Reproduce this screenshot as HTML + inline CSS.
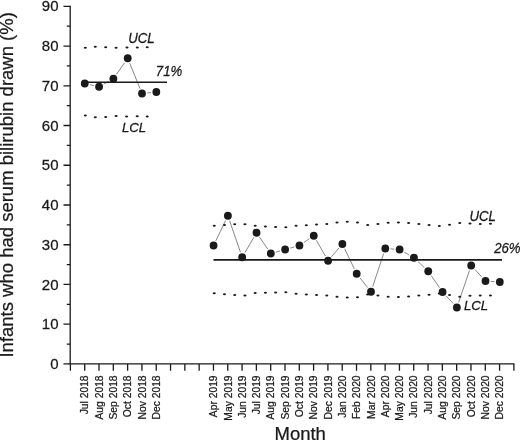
<!DOCTYPE html>
<html><head><meta charset="utf-8"><title>Control chart</title>
<style>html,body{margin:0;padding:0;background:#fff}svg{display:block}text{font-family:"Liberation Sans",Arial,sans-serif;fill:#1a1a1a;stroke:#1a1a1a;stroke-width:.25px}</style></head><body>
<svg width="520" height="440" viewBox="0 0 520 440">
<rect width="520" height="440" fill="#fff"/>
<g stroke="#1a1a1a" stroke-width="1.3" fill="none">
<path d="M70.2 5.65V363.95H514.4"/>
<path d="M63.50 363.95H70.2M66.80 344.08H70.2M63.50 324.21H70.2M66.80 304.34H70.2M63.50 284.47H70.2M66.80 264.60H70.2M63.50 244.73H70.2M66.80 224.86H70.2M63.50 204.99H70.2M66.80 185.12H70.2M63.50 165.26H70.2M66.80 145.39H70.2M63.50 125.52H70.2M66.80 105.65H70.2M63.50 85.78H70.2M66.80 65.91H70.2M63.50 46.04H70.2M66.80 26.17H70.2M63.50 6.30H70.2"/>
<path d="M70.40 363.95V370.65M84.71 363.95V370.65M99.01 363.95V370.65M113.32 363.95V370.65M127.62 363.95V370.65M141.93 363.95V370.65M156.24 363.95V370.65M170.54 363.95V370.65M184.85 363.95V370.65M199.15 363.95V370.65M213.46 363.95V370.65M227.77 363.95V370.65M242.07 363.95V370.65M256.38 363.95V370.65M270.68 363.95V370.65M284.99 363.95V370.65M299.30 363.95V370.65M313.60 363.95V370.65M327.91 363.95V370.65M342.21 363.95V370.65M356.52 363.95V370.65M370.83 363.95V370.65M385.13 363.95V370.65M399.44 363.95V370.65M413.74 363.95V370.65M428.05 363.95V370.65M442.36 363.95V370.65M456.66 363.95V370.65M470.97 363.95V370.65M485.27 363.95V370.65M499.58 363.95V370.65M513.89 363.95V370.65"/>
</g>
<text transform="translate(58.5 369.10) scale(1 1.01)" font-size="15" text-anchor="end">0</text>
<text transform="translate(58.5 329.36) scale(1 1.01)" font-size="15" text-anchor="end">10</text>
<text transform="translate(58.5 289.62) scale(1 1.01)" font-size="15" text-anchor="end">20</text>
<text transform="translate(58.5 249.88) scale(1 1.01)" font-size="15" text-anchor="end">30</text>
<text transform="translate(58.5 210.14) scale(1 1.01)" font-size="15" text-anchor="end">40</text>
<text transform="translate(58.5 170.41) scale(1 1.01)" font-size="15" text-anchor="end">50</text>
<text transform="translate(58.5 130.67) scale(1 1.01)" font-size="15" text-anchor="end">60</text>
<text transform="translate(58.5 90.93) scale(1 1.01)" font-size="15" text-anchor="end">70</text>
<text transform="translate(58.5 51.19) scale(1 1.01)" font-size="15" text-anchor="end">80</text>
<text transform="translate(58.5 11.45) scale(1 1.01)" font-size="15" text-anchor="end">90</text>
<text transform="translate(88.46 375.4) rotate(-90)" font-size="10.3" text-anchor="end">Jul 2018</text>
<text transform="translate(102.76 375.4) rotate(-90)" font-size="10.3" text-anchor="end">Aug 2018</text>
<text transform="translate(117.07 375.4) rotate(-90)" font-size="10.3" text-anchor="end">Sep 2018</text>
<text transform="translate(131.37 375.4) rotate(-90)" font-size="10.3" text-anchor="end">Oct 2018</text>
<text transform="translate(145.68 375.4) rotate(-90)" font-size="10.3" text-anchor="end">Nov 2018</text>
<text transform="translate(159.99 375.4) rotate(-90)" font-size="10.3" text-anchor="end">Dec 2018</text>
<text transform="translate(217.21 375.4) rotate(-90)" font-size="10.3" text-anchor="end">Apr 2019</text>
<text transform="translate(231.52 375.4) rotate(-90)" font-size="10.3" text-anchor="end">May 2019</text>
<text transform="translate(245.82 375.4) rotate(-90)" font-size="10.3" text-anchor="end">Jun 2019</text>
<text transform="translate(260.13 375.4) rotate(-90)" font-size="10.3" text-anchor="end">Jul 2019</text>
<text transform="translate(274.43 375.4) rotate(-90)" font-size="10.3" text-anchor="end">Aug 2019</text>
<text transform="translate(288.74 375.4) rotate(-90)" font-size="10.3" text-anchor="end">Sep 2019</text>
<text transform="translate(303.05 375.4) rotate(-90)" font-size="10.3" text-anchor="end">Oct 2019</text>
<text transform="translate(317.35 375.4) rotate(-90)" font-size="10.3" text-anchor="end">Nov 2019</text>
<text transform="translate(331.66 375.4) rotate(-90)" font-size="10.3" text-anchor="end">Dec 2019</text>
<text transform="translate(345.96 375.4) rotate(-90)" font-size="10.3" text-anchor="end">Jan 2020</text>
<text transform="translate(360.27 375.4) rotate(-90)" font-size="10.3" text-anchor="end">Feb 2020</text>
<text transform="translate(374.58 375.4) rotate(-90)" font-size="10.3" text-anchor="end">Mar 2020</text>
<text transform="translate(388.88 375.4) rotate(-90)" font-size="10.3" text-anchor="end">Apr 2020</text>
<text transform="translate(403.19 375.4) rotate(-90)" font-size="10.3" text-anchor="end">May 2020</text>
<text transform="translate(417.49 375.4) rotate(-90)" font-size="10.3" text-anchor="end">Jun 2020</text>
<text transform="translate(431.80 375.4) rotate(-90)" font-size="10.3" text-anchor="end">Jul 2020</text>
<text transform="translate(446.11 375.4) rotate(-90)" font-size="10.3" text-anchor="end">Aug 2020</text>
<text transform="translate(460.41 375.4) rotate(-90)" font-size="10.3" text-anchor="end">Sep 2020</text>
<text transform="translate(474.72 375.4) rotate(-90)" font-size="10.3" text-anchor="end">Oct 2020</text>
<text transform="translate(489.02 375.4) rotate(-90)" font-size="10.3" text-anchor="end">Nov 2020</text>
<text transform="translate(503.33 375.4) rotate(-90)" font-size="10.3" text-anchor="end">Dec 2020</text>
<text transform="translate(13.4 184.85) rotate(-90)" font-size="18.5" text-anchor="middle">Infants who had serum bilirubin drawn (%)</text>
<text x="300.2" y="440" font-size="18.5" text-anchor="middle">Month</text>
<path d="M89.93 84.67L93.90 85.58M103.70 84.17L108.76 81.33M116.42 74.40L124.67 62.60M129.69 63.16L140.02 88.59M147.28 92.95L151.05 92.55M215.87 240.72L225.58 220.53M229.61 220.76L240.46 252.24M244.86 252.67L253.84 237.33M259.52 237.11L267.81 249.14M275.92 252.07L280.03 250.93M290.23 248.07L294.34 246.93M303.82 242.52L309.37 238.73M316.38 240.35L325.44 256.15M331.51 256.72L338.94 248.03M344.68 248.78L354.39 268.97M359.99 277.90L367.70 287.60M372.66 286.72L383.65 253.53M390.60 248.87L394.34 249.13M404.22 252.15L409.35 255.10M417.80 261.39L424.39 267.61M431.26 275.61L439.55 287.64M446.16 295.89L453.27 303.61M458.58 302.48L469.48 270.52M474.79 269.39L481.90 277.11M490.79 281.37L494.52 281.63" stroke="#555" stroke-width="0.7" fill="none"/>
<path d="M84.7 82.2H167M213.5 259.9H502" stroke="#1a1a1a" stroke-width="1.6" fill="none"/>
<g fill="#1a1a1a">
<ellipse cx="85.30" cy="47.80" rx="1.55" ry="1.0"/>
<ellipse cx="95.30" cy="46.80" rx="1.55" ry="1.0"/>
<ellipse cx="105.70" cy="47.30" rx="1.55" ry="1.0"/>
<ellipse cx="116.10" cy="47.80" rx="1.55" ry="1.0"/>
<ellipse cx="127.00" cy="47.50" rx="1.55" ry="1.0"/>
<ellipse cx="137.30" cy="47.50" rx="1.55" ry="1.0"/>
<ellipse cx="147.20" cy="47.30" rx="1.55" ry="1.0"/>
<ellipse cx="85.30" cy="115.60" rx="1.55" ry="1.0"/>
<ellipse cx="95.30" cy="117.30" rx="1.55" ry="1.0"/>
<ellipse cx="105.70" cy="117.10" rx="1.55" ry="1.0"/>
<ellipse cx="116.10" cy="116.10" rx="1.55" ry="1.0"/>
<ellipse cx="126.60" cy="116.60" rx="1.55" ry="1.0"/>
<ellipse cx="137.20" cy="116.30" rx="1.55" ry="1.0"/>
<ellipse cx="147.20" cy="116.60" rx="1.55" ry="1.0"/>
<ellipse cx="214.25" cy="225.75" rx="1.55" ry="1.0"/>
<ellipse cx="224.48" cy="225.00" rx="1.55" ry="1.0"/>
<ellipse cx="234.71" cy="224.25" rx="1.55" ry="1.0"/>
<ellipse cx="244.94" cy="224.25" rx="1.55" ry="1.0"/>
<ellipse cx="255.17" cy="225.75" rx="1.55" ry="1.0"/>
<ellipse cx="265.40" cy="226.50" rx="1.55" ry="1.0"/>
<ellipse cx="275.63" cy="227.00" rx="1.55" ry="1.0"/>
<ellipse cx="285.86" cy="227.25" rx="1.55" ry="1.0"/>
<ellipse cx="296.09" cy="225.75" rx="1.55" ry="1.0"/>
<ellipse cx="306.32" cy="225.25" rx="1.55" ry="1.0"/>
<ellipse cx="316.55" cy="224.60" rx="1.55" ry="1.0"/>
<ellipse cx="326.78" cy="224.00" rx="1.55" ry="1.0"/>
<ellipse cx="337.01" cy="222.50" rx="1.55" ry="1.0"/>
<ellipse cx="347.24" cy="221.75" rx="1.55" ry="1.0"/>
<ellipse cx="357.47" cy="222.50" rx="1.55" ry="1.0"/>
<ellipse cx="367.70" cy="225.00" rx="1.55" ry="1.0"/>
<ellipse cx="377.93" cy="224.00" rx="1.55" ry="1.0"/>
<ellipse cx="388.16" cy="222.75" rx="1.55" ry="1.0"/>
<ellipse cx="398.39" cy="222.50" rx="1.55" ry="1.0"/>
<ellipse cx="408.62" cy="223.00" rx="1.55" ry="1.0"/>
<ellipse cx="418.85" cy="223.90" rx="1.55" ry="1.0"/>
<ellipse cx="429.08" cy="225.10" rx="1.55" ry="1.0"/>
<ellipse cx="439.31" cy="226.00" rx="1.55" ry="1.0"/>
<ellipse cx="449.54" cy="224.75" rx="1.55" ry="1.0"/>
<ellipse cx="459.77" cy="223.00" rx="1.55" ry="1.0"/>
<ellipse cx="470.00" cy="223.50" rx="1.55" ry="1.0"/>
<ellipse cx="480.23" cy="224.00" rx="1.55" ry="1.0"/>
<ellipse cx="490.46" cy="223.80" rx="1.55" ry="1.0"/>
<ellipse cx="214.25" cy="293.25" rx="1.55" ry="1.0"/>
<ellipse cx="224.48" cy="294.25" rx="1.55" ry="1.0"/>
<ellipse cx="234.71" cy="295.00" rx="1.55" ry="1.0"/>
<ellipse cx="244.94" cy="295.50" rx="1.55" ry="1.0"/>
<ellipse cx="255.17" cy="293.00" rx="1.55" ry="1.0"/>
<ellipse cx="265.40" cy="292.75" rx="1.55" ry="1.0"/>
<ellipse cx="275.63" cy="292.50" rx="1.55" ry="1.0"/>
<ellipse cx="285.86" cy="292.25" rx="1.55" ry="1.0"/>
<ellipse cx="296.09" cy="293.75" rx="1.55" ry="1.0"/>
<ellipse cx="306.32" cy="294.50" rx="1.55" ry="1.0"/>
<ellipse cx="316.55" cy="295.10" rx="1.55" ry="1.0"/>
<ellipse cx="326.78" cy="295.60" rx="1.55" ry="1.0"/>
<ellipse cx="337.01" cy="296.75" rx="1.55" ry="1.0"/>
<ellipse cx="347.24" cy="297.50" rx="1.55" ry="1.0"/>
<ellipse cx="357.47" cy="297.25" rx="1.55" ry="1.0"/>
<ellipse cx="367.70" cy="294.50" rx="1.55" ry="1.0"/>
<ellipse cx="377.93" cy="295.50" rx="1.55" ry="1.0"/>
<ellipse cx="388.16" cy="296.75" rx="1.55" ry="1.0"/>
<ellipse cx="398.39" cy="297.00" rx="1.55" ry="1.0"/>
<ellipse cx="408.62" cy="296.50" rx="1.55" ry="1.0"/>
<ellipse cx="418.85" cy="295.60" rx="1.55" ry="1.0"/>
<ellipse cx="429.08" cy="294.75" rx="1.55" ry="1.0"/>
<ellipse cx="439.31" cy="293.50" rx="1.55" ry="1.0"/>
<ellipse cx="449.54" cy="295.00" rx="1.55" ry="1.0"/>
<ellipse cx="459.77" cy="296.75" rx="1.55" ry="1.0"/>
<ellipse cx="470.00" cy="295.75" rx="1.55" ry="1.0"/>
<ellipse cx="480.23" cy="295.50" rx="1.55" ry="1.0"/>
<ellipse cx="490.46" cy="295.50" rx="1.55" ry="1.0"/>
</g>
<g fill="#1a1a1a">
<circle cx="84.76" cy="83.5" r="3.9"/>
<circle cx="99.07" cy="86.75" r="3.9"/>
<circle cx="113.39" cy="78.75" r="3.9"/>
<circle cx="127.7" cy="58.25" r="3.9"/>
<circle cx="142.01" cy="93.5" r="3.9"/>
<circle cx="156.32" cy="92" r="3.9"/>
<circle cx="213.57" cy="245.5" r="3.9"/>
<circle cx="227.88" cy="215.75" r="3.9"/>
<circle cx="242.19" cy="257.25" r="3.9"/>
<circle cx="256.51" cy="232.75" r="3.9"/>
<circle cx="270.82" cy="253.5" r="3.9"/>
<circle cx="285.13" cy="249.5" r="3.9"/>
<circle cx="299.44" cy="245.5" r="3.9"/>
<circle cx="313.75" cy="235.75" r="3.9"/>
<circle cx="328.07" cy="260.75" r="3.9"/>
<circle cx="342.38" cy="244" r="3.9"/>
<circle cx="356.69" cy="273.75" r="3.9"/>
<circle cx="371.0" cy="291.75" r="3.9"/>
<circle cx="385.31" cy="248.5" r="3.9"/>
<circle cx="399.63" cy="249.5" r="3.9"/>
<circle cx="413.94" cy="257.75" r="3.9"/>
<circle cx="428.25" cy="271.25" r="3.9"/>
<circle cx="442.56" cy="292" r="3.9"/>
<circle cx="456.87" cy="307.5" r="3.9"/>
<circle cx="471.19" cy="265.5" r="3.9"/>
<circle cx="485.5" cy="281" r="3.9"/>
<circle cx="499.81" cy="282" r="3.9"/>
</g>
<g font-size="13.2" font-style="italic">
<text transform="translate(128.3 42.5) scale(1 1.04)">UCL</text>
<text transform="translate(121.9 132.0) scale(1 1.02)">LCL</text>
<text transform="translate(155.8 75.5) scale(1 1.04)">71%</text>
<text transform="translate(469.5 220.6) scale(1 1.04)">UCL</text>
<text transform="translate(464.0 309.8) scale(1 1.02)">LCL</text>
<text transform="translate(494.2 252.7) scale(1 1.05)">26%</text>
</g>
</svg></body></html>
